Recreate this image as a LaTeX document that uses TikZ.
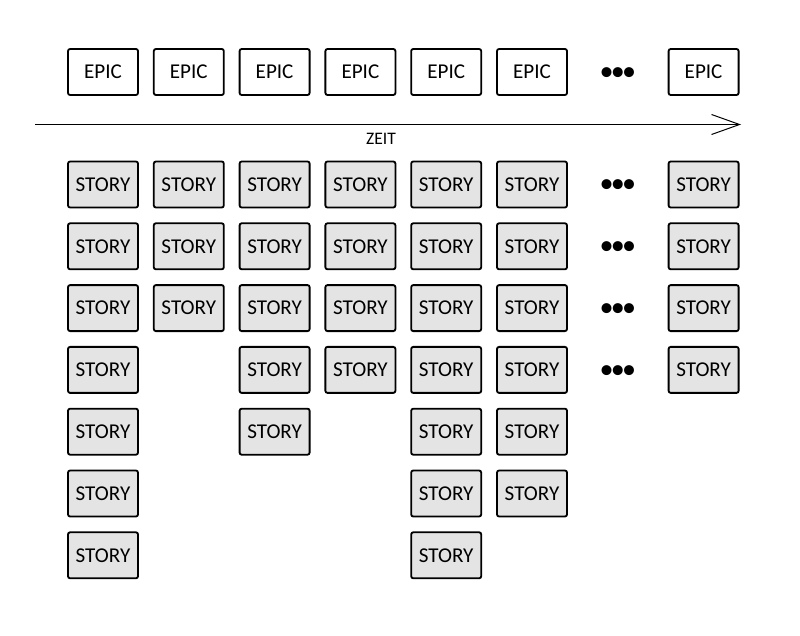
\documentclass[tikz,border=0pt]{standalone}
\usepackage{fontspec}
\setmainfont{Carlito}
\usetikzlibrary{arrows.meta}
\definecolor{kartegrau}{RGB}{228,228,228}
\newcommand{\weiter}{\textbullet\hspace{-0.1em}\textbullet\hspace{-0.1em}\textbullet}

\begin{document}
\begin{tikzpicture}[x=0.025cm, y=-0.025cm,
    karte/.style={draw, line width=1.3pt, rounded corners=1.5pt, minimum width=1.75cm,
                  minimum height=1.15cm, inner sep=0pt, font=\fontsize{15}{17}\selectfont},
    epic/.style={karte, fill=white},
    story/.style={karte, fill=kartegrau},
    punkte/.style={font=\fontsize{20}{22}\selectfont, inner sep=0pt},
    pfeil/.style={-{Straight Barb[length=7mm, width=5mm]}, line width=0.7pt}]
  \useasboundingbox (0,0) rectangle (800,636);
  % Epics
  \foreach \c in {1,2,3,4,5,6,8}
    \node[epic] (epic\c) at ({103+85.8*(\c-1)},72) {EPIC};
  \node[punkte] (epicpunkte) at (617.8,74) {\weiter};
  % Zeitachse
  \coordinate (zeitstart) at (35,124.5);
  \coordinate (zeitende) at (741,124.5);
  \draw[pfeil] (zeitstart) -- node[pos=0.49, below=6pt, inner sep=0pt, font=\fontsize{12.5}{14}\selectfont] {ZEIT} (zeitende);
  % Stories (Spalte/Anzahl)
  \foreach \c/\n in {1/7,2/3,3/5,4/4,5/7,6/6,8/4}
    \foreach \r in {1,...,\n}
      \node[story] (story\c-\r) at ({103+85.8*(\c-1)},{184.5+61.8*(\r-1)}) {STORY};
  \foreach \r in {1,...,4}
    \node[punkte] (punkte\r) at (617.8,{186.5+61.8*(\r-1)}) {\weiter};
\end{tikzpicture}
\end{document}
